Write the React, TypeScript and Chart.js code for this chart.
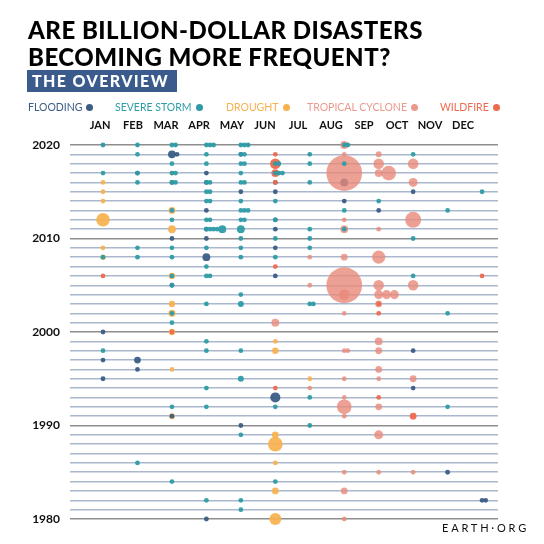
import React, { useEffect, useRef } from 'react';
import { Chart, registerables } from 'chart.js';

Chart.register(...registerables);

// ---------- DATA ----------
const MONTHS = ['JAN', 'FEB', 'MAR', 'APR', 'MAY', 'JUN', 'JUL', 'AUG', 'SEP', 'OCT', 'NOV', 'DEC'];
const FIRST_YEAR = 1980;
const LAST_YEAR = 2020;

// [year, month (1-12), estimated cost in $ billions]
type Ev = [number, number, number];

const FLOODING: Ev[] = [
  [2019, 3, 6], [2019, 3, 2], [2019, 5, 2],
  [2017, 2, 2], [2017, 4, 2],
  [2016, 3, 2], [2016, 4, 2], [2016, 6, 2], [2016, 8, 6],
  [2015, 5, 2], [2015, 6, 2], [2015, 10, 2],
  [2014, 8, 2],
  [2013, 4, 2], [2013, 9, 2],
  [2012, 6, 2],
  [2011, 4, 2], [2011, 6, 2],
  [2010, 3, 2], [2010, 4, 2],
  [2009, 6, 2],
  [2008, 4, 6],
  [2006, 6, 2],
  [2005, 3, 2],
  [2000, 1, 2],
  [1998, 10, 2],
  [1997, 1, 2], [1997, 2, 4.5],
  [1996, 2, 2],
  [1995, 1, 2],
  [1994, 10, 2],
  [1993, 6, 10],
  [1991, 3, 2],
  [1990, 5, 2],
  [1985, 11, 2],
  [1982, 12, 2], [1982, 12, 2],
  [1980, 4, 2],
];

const SEVERE_STORM: Ev[] = [
  [2020, 1, 2], [2020, 2, 2], [2020, 3, 2], [2020, 3, 2], [2020, 4, 2], [2020, 4, 2], [2020, 4, 2],
  [2020, 5, 2], [2020, 5, 2], [2020, 5, 2], [2020, 8, 2], [2020, 8, 2],
  [2019, 2, 2], [2019, 4, 2], [2019, 5, 2], [2019, 5, 2], [2019, 7, 2], [2019, 10, 2],
  [2018, 3, 2], [2018, 4, 2], [2018, 5, 2], [2018, 5, 2], [2018, 6, 2], [2018, 6, 2], [2018, 7, 2], [2018, 8, 2],
  [2017, 1, 2], [2017, 2, 2], [2017, 3, 2], [2017, 3, 2], [2017, 5, 2], [2017, 6, 2], [2017, 6, 2], [2017, 6, 2],
  [2016, 2, 2], [2016, 3, 2], [2016, 3, 2], [2016, 4, 2], [2016, 4, 2], [2016, 5, 2], [2016, 5, 2], [2016, 7, 2],
  [2015, 4, 2], [2015, 4, 2], [2015, 12, 2],
  [2014, 4, 2], [2014, 4, 2], [2014, 5, 2], [2014, 6, 2], [2014, 9, 2],
  [2013, 3, 2], [2013, 5, 2], [2013, 5, 2], [2013, 5, 2], [2013, 8, 2], [2013, 11, 2],
  [2012, 3, 2], [2012, 4, 2], [2012, 4, 2], [2012, 5, 2], [2012, 5, 2], [2012, 6, 2],
  [2011, 4, 2], [2011, 4, 2], [2011, 4, 2], [2011, 4, 2], [2011, 4, 6], [2011, 5, 6], [2011, 7, 2], [2011, 8, 2],
  [2010, 5, 2], [2010, 6, 2], [2010, 7, 2], [2010, 10, 2],
  [2009, 2, 2], [2009, 3, 2], [2009, 4, 2], [2009, 5, 2], [2009, 7, 2],
  [2008, 1, 2], [2008, 2, 2], [2008, 3, 2], [2008, 5, 2], [2008, 6, 2],
  [2007, 4, 2],
  [2006, 3, 2], [2006, 4, 2], [2006, 4, 2], [2006, 10, 2],
  [2005, 3, 2],
  [2004, 5, 2],
  [2003, 4, 2], [2003, 5, 3.5], [2003, 7, 2], [2003, 7, 2],
  [2002, 3, 2], [2002, 11, 2],
  [2001, 3, 2],
  [1999, 4, 2],
  [1998, 1, 2], [1998, 4, 2], [1998, 5, 2],
  [1995, 5, 3.5],
  [1994, 4, 2],
  [1993, 7, 2],
  [1992, 3, 2], [1992, 4, 2], [1992, 6, 2], [1992, 11, 2],
  [1990, 7, 2],
  [1989, 5, 2],
  [1986, 2, 2],
  [1984, 3, 2], [1984, 6, 2],
  [1982, 4, 2], [1982, 5, 2],
  [1981, 5, 2],
];

const DROUGHT: Ev[] = [
  [2017, 3, 2], [2016, 1, 2], [2015, 1, 2], [2014, 1, 2], [2013, 3, 4.5], [2012, 1, 18],
  [2011, 3, 6], [2009, 1, 2], [2008, 1, 3], [2006, 3, 4], [2003, 3, 4], [2002, 3, 5],
  [2000, 3, 4], [1999, 6, 2], [1998, 6, 4], [1996, 3, 2], [1995, 7, 2], [1991, 3, 3.5],
  [1989, 6, 4.5], [1988, 6, 21], [1986, 6, 2], [1983, 6, 4.5], [1980, 6, 14],
];

const TROPICAL_CYCLONE: Ev[] = [
  [2020, 8, 6], [2019, 8, 2], [2019, 9, 3.5], [2018, 9, 11], [2018, 10, 11],
  [2017, 8, 125], [2017, 9, 6], [2017, 9, 21], [2016, 10, 8],
  [2012, 8, 2], [2012, 10, 25], [2011, 8, 6], [2011, 9, 2],
  [2008, 7, 2], [2008, 8, 4.5], [2008, 9, 17],
  [2005, 7, 2], [2005, 8, 125], [2005, 9, 11], [2005, 10, 11],
  [2004, 8, 11], [2004, 9, 8], [2004, 9, 8], [2004, 9, 8],
  [2003, 9, 4.5], [2002, 8, 2], [2001, 6, 6], [1999, 9, 6],
  [1998, 8, 2], [1998, 8, 2], [1998, 9, 4.5], [1996, 9, 4.5],
  [1995, 8, 2], [1995, 9, 2], [1995, 10, 4.5], [1994, 7, 2], [1993, 8, 2],
  [1992, 8, 21], [1992, 9, 4.5], [1991, 8, 2], [1989, 9, 8],
  [1985, 8, 2], [1985, 9, 2], [1985, 10, 2], [1983, 8, 4.5], [1980, 8, 2],
];

const WILDFIRE: Ev[] = [
  [2019, 6, 2], [2018, 6, 11], [2017, 6, 6], [2016, 6, 2], [2007, 6, 2],
  [2006, 1, 2], [2006, 12, 2], [2003, 9, 2], [2002, 9, 2], [2000, 3, 2],
  [1994, 6, 2], [1993, 9, 2], [1991, 10, 4.5],
];

// ---------- STYLE / LAYOUT ----------
const X_MIN = -0.958;
const X_MAX = 11.462;
const PLOT_W = 428;
const PX_PER_UNIT = PLOT_W / (X_MAX - X_MIN);

const SERIES = [
  { label: 'FLOODING', data: FLOODING, color: '#3b5d85', fill: 'rgba(59,93,133,0.95)', order: 4 },
  { label: 'SEVERE STORM', data: SEVERE_STORM, color: '#2e9ca6', fill: 'rgba(46,156,166,0.95)', order: 1 },
  { label: 'DROUGHT', data: DROUGHT, color: '#f7b14e', fill: 'rgba(247,177,78,0.92)', order: 5 },
  { label: 'TROPICAL CYCLONE', data: TROPICAL_CYCLONE, color: '#eb9a8e', fill: 'rgba(232,137,122,0.8)', order: 3 },
  { label: 'WILDFIRE', data: WILDFIRE, color: '#ee6a4f', fill: 'rgba(238,106,79,0.95)', order: 2 },
];

const LEGEND_LEFT = [28, 115, 226, 307, 440];

const radiusOf = (cost: number) => Math.max(2.4, 1.6 * Math.sqrt(cost));

function toPoints(events: Ev[]) {
  const cursor: Record<string, { x: number; r: number }> = {};
  return events.map(([year, month, cost]) => {
    const r = radiusOf(cost);
    const key = `${year}-${month}`;
    let offPx = 0;
    const prev = cursor[key];
    if (prev) offPx = prev.x + prev.r + r - 1.2;
    cursor[key] = { x: offPx, r };
    return { x: month - 1 + offPx / PX_PER_UNIT, y: year, r };
  });
}

const FONT = 'Lato, "Open Sans", "DejaVu Sans", sans-serif';

export default function App() {
  const ref = useRef<HTMLCanvasElement | null>(null);

  useEffect(() => {
    if (!ref.current) return;
    const years: number[] = [];
    for (let y = FIRST_YEAR; y <= LAST_YEAR; y++) years.push(y);

    const chart = new Chart(ref.current, {
      type: 'bubble',
      data: {
        datasets: SERIES.map((s) => ({
          label: s.label,
          data: toPoints(s.data),
          backgroundColor: s.fill,
          borderWidth: 0,
          hoverRadius: 0,
          order: s.order,
        })),
      },
      options: {
        animation: false,
        responsive: false,
        events: [],
        layout: { padding: { top: 108, right: 46, bottom: 18, left: 0 } },
        plugins: { legend: { display: false }, tooltip: { enabled: false } },
        scales: {
          x: { type: 'linear', min: X_MIN, max: X_MAX, display: false },
          xm: {
            type: 'linear',
            position: 'top',
            min: -0.909,
            max: 12.06,
            grid: { display: false, drawTicks: false, tickLength: 0 },
            border: { display: false },
            afterBuildTicks: (a: any) => {
              a.ticks = MONTHS.map((_, i) => ({ value: i }));
            },
            afterFit: (a: any) => {
              a.height = 30;
            },
            ticks: {
              autoSkip: false,
              maxRotation: 0,
              padding: 6,
              color: '#111',
              font: { family: FONT, weight: 'bold', size: 11 },
              callback: (v: any) => MONTHS[Number(v)] ?? '',
            },
          },
          y: {
            type: 'linear',
            min: FIRST_YEAR - 0.75,
            max: LAST_YEAR + 0.75,
            afterBuildTicks: (a: any) => {
              a.ticks = years.map((v) => ({ value: v }));
            },
            afterFit: (a: any) => {
              a.width = 70;
            },
            grid: {
              drawTicks: false,
              tickLength: 0,
              lineWidth: 1.5,
              color: (ctx: any) => (ctx.tick && ctx.tick.value % 10 === 0 ? '#8e8e8e' : '#aab8cd'),
            },
            border: { display: false },
            ticks: {
              autoSkip: false,
              padding: 10,
              color: '#111',
              font: { family: FONT, weight: 'bold', size: 12 },
              callback: (v: any) => (Number(v) % 10 === 0 ? String(v) : ''),
            },
          },
        },
      },
    } as any);
    return () => chart.destroy();
  }, []);

  return (
    <div style={{ position: 'fixed', left: 0, top: 0, width: 544, height: 544, background: '#fff', overflow: 'hidden', fontFamily: FONT }}>
      <canvas ref={ref} width={544} height={544} style={{ position: 'absolute', left: 0, top: 0, width: 544, height: 544 }} />
      <div style={{ position: 'absolute', left: 28, top: 16, fontWeight: 900, fontSize: 24, lineHeight: '27px', letterSpacing: 0.5, color: '#000', whiteSpace: 'nowrap' }}>
        <div>ARE BILLION-DOLLAR DISASTERS</div>
        <div>BECOMING MORE FREQUENT?</div>
      </div>
      <div style={{ position: 'absolute', left: 27, top: 70, width: 150, height: 22, background: '#3a5b8c', color: '#fff', fontWeight: 900, fontSize: 16, lineHeight: '22px', letterSpacing: 1.4, paddingLeft: 5, boxSizing: 'border-box', whiteSpace: 'nowrap' }}>
        THE OVERVIEW
      </div>
      {SERIES.map((s, i) => (
        <div key={s.label} style={{ position: 'absolute', left: LEGEND_LEFT[i], top: 99, height: 16, display: 'flex', alignItems: 'center', color: s.color, fontSize: 10.5, textTransform: 'uppercase', whiteSpace: 'nowrap' }}>
          <span>{s.label}</span>
          <span style={{ display: 'inline-block', width: 7, height: 7, borderRadius: '50%', background: s.color, marginLeft: 4 }} />
        </div>
      ))}
      <div style={{ position: 'absolute', left: 442, top: 521, fontSize: 11, letterSpacing: 2.8, color: '#111', whiteSpace: 'nowrap' }}>EARTH·ORG</div>
    </div>
  );
}
